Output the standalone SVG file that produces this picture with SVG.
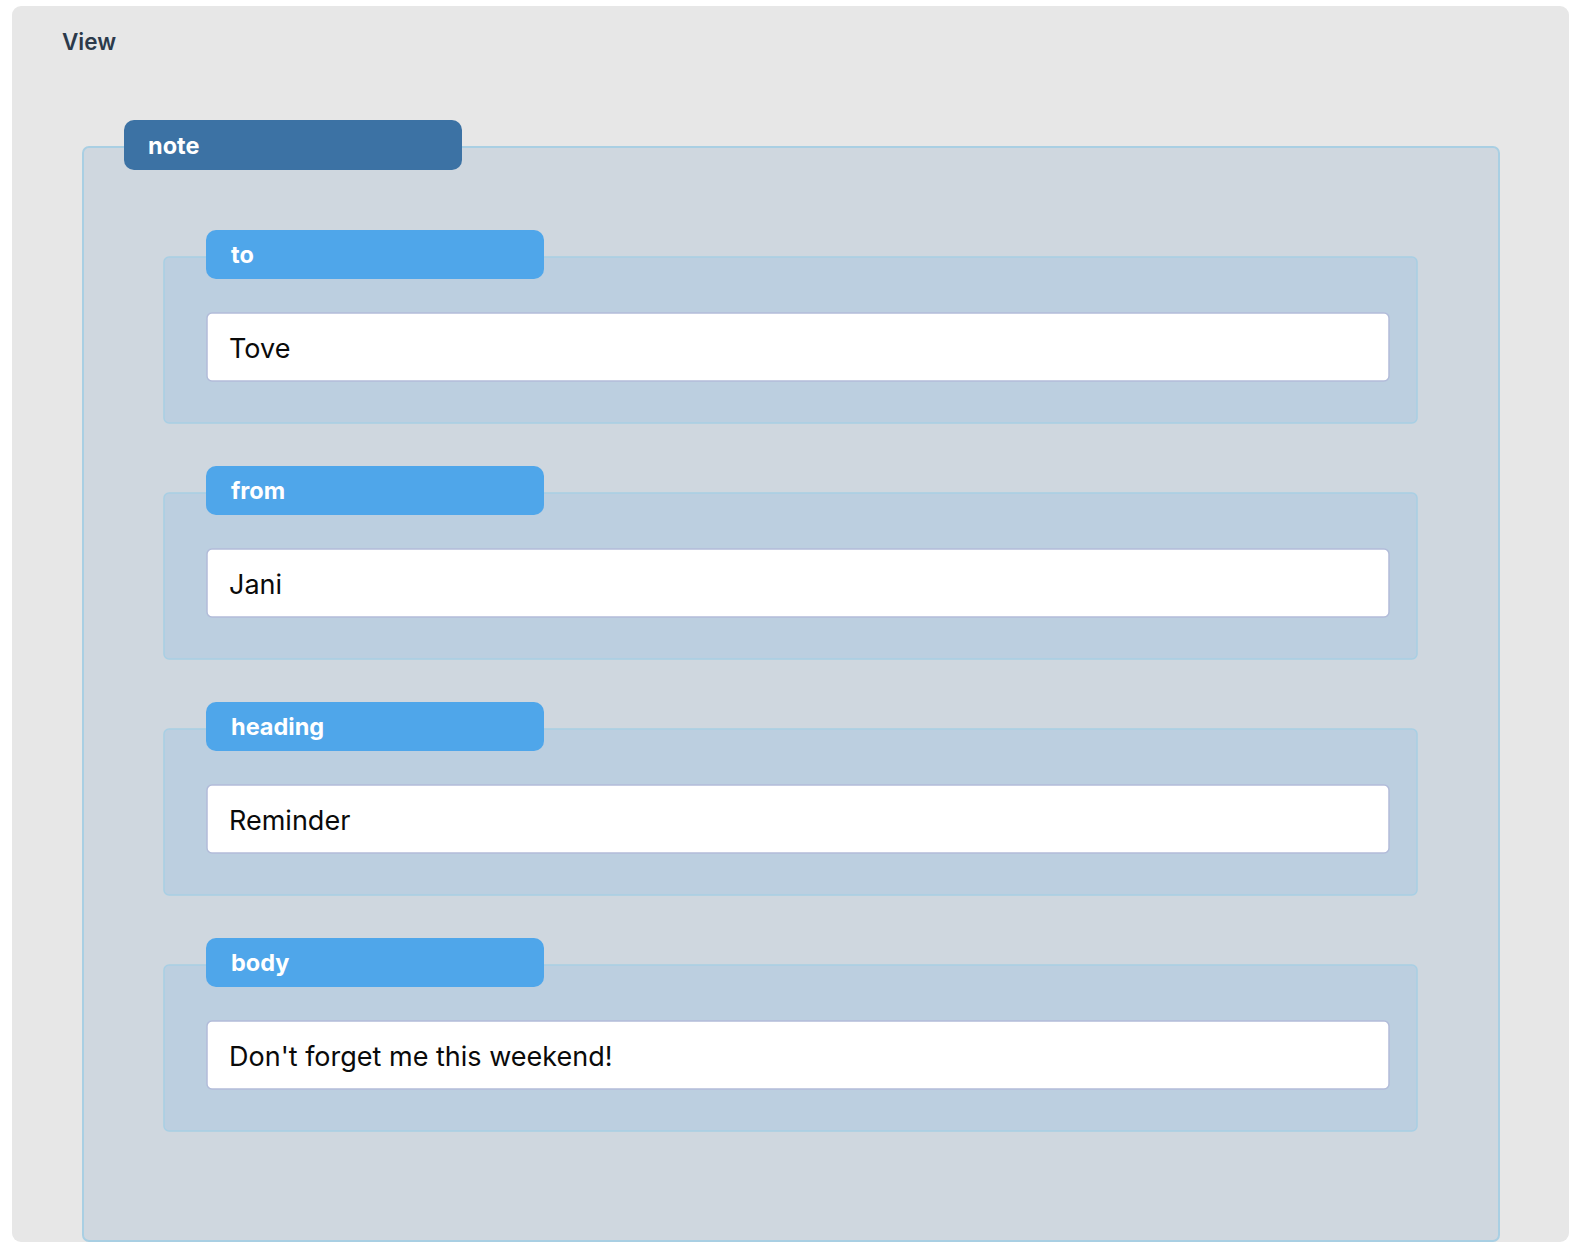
<svg xmlns="http://www.w3.org/2000/svg" width="1580" height="1248" viewBox="0 0 1580 1248">
<style>
.view{fill:#e7e7e7}
.title{font-family:Inter,"Liberation Sans",sans-serif;font-size:22.5px;font-weight:600;fill:#2c3a4b}
.outer{fill:#cfd7df;stroke:#a9cfe3;stroke-width:2}
.inner{fill:#bccfe0;stroke:#a8cfe4;stroke-width:1.5}
.lbl-dark{fill:#3c72a4}
.lbl{fill:#4fa6ea}
.lbltxt{font-family:Inter,"Liberation Sans",sans-serif;font-size:23.5px;font-weight:700;fill:#ffffff}
.input{fill:#ffffff;stroke:#b2bcd9;stroke-width:1.5}
.val{font-family:Inter,"Liberation Sans",sans-serif;font-size:27px;fill:#0a0a0a}
</style>
<rect class="view" x="12" y="6" width="1557" height="1236" rx="9"/>
<text class="title" x="62" y="50">View</text>
<g id="note">
  <rect class="outer" x="83" y="147" width="1416" height="1094" rx="6"/>
  <rect class="lbl-dark" x="124" y="120" width="338" height="50" rx="10"/>
  <text class="lbltxt" x="148" y="154">note</text>
</g>
<g id="to">
  <rect class="inner" x="164" y="257" width="1253" height="166" rx="5"/>
  <rect class="lbl" x="206" y="230" width="338" height="49" rx="10"/>
  <text class="lbltxt" x="231" y="263">to</text>
  <rect class="input" x="207" y="313" width="1182" height="68" rx="5"/>
  <text class="val" x="229" y="358">Tove</text>
</g>
<g id="from">
  <rect class="inner" x="164" y="493" width="1253" height="166" rx="5"/>
  <rect class="lbl" x="206" y="466" width="338" height="49" rx="10"/>
  <text class="lbltxt" x="231" y="499">from</text>
  <rect class="input" x="207" y="549" width="1182" height="68" rx="5"/>
  <text class="val" x="229" y="594">Jani</text>
</g>
<g id="heading">
  <rect class="inner" x="164" y="729" width="1253" height="166" rx="5"/>
  <rect class="lbl" x="206" y="702" width="338" height="49" rx="10"/>
  <text class="lbltxt" x="231" y="735">heading</text>
  <rect class="input" x="207" y="785" width="1182" height="68" rx="5"/>
  <text class="val" x="229" y="830">Reminder</text>
</g>
<g id="body">
  <rect class="inner" x="164" y="965" width="1253" height="166" rx="5"/>
  <rect class="lbl" x="206" y="938" width="338" height="49" rx="10"/>
  <text class="lbltxt" x="231" y="971">body</text>
  <rect class="input" x="207" y="1021" width="1182" height="68" rx="5"/>
  <text class="val" x="229" y="1066">Don't forget me this weekend!</text>
</g>
<g id="connectors"/>
</svg>
